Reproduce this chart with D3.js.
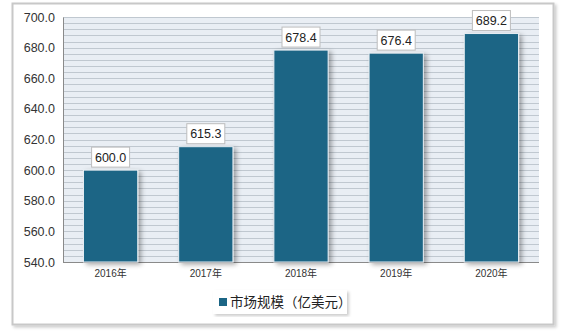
<!DOCTYPE html>
<html>
<head>
<meta charset="utf-8">
<script src="https://cdn.jsdelivr.net/npm/d3@7"></script>
<style>
  body { margin: 0; background: #fff; }
  text { font-family: "Liberation Sans", "Noto Sans CJK SC", sans-serif; }
</style>
</head>
<body>
<div id="chart"></div>
<script>
const years = ["2016年", "2017年", "2018年", "2019年", "2020年"];
const marketSize = [600.0, 615.3, 678.4, 676.4, 689.2];
const yTicks = [540, 560, 580, 600, 620, 640, 660, 680, 700];
const legendLabel = "市场规模（亿美元）";

const width = 567, height = 331;
const plot = { left: 63, right: 539, top: 17, bottom: 262 };
const barColor = "#1b6585";

const svg = d3.select("#chart").append("svg")
  .attr("width", width)
  .attr("height", height);

const defs = svg.append("defs");
const shadow = defs.append("filter").attr("id", "shadow")
  .attr("x", "-20%").attr("y", "-20%").attr("width", "150%").attr("height", "150%");
shadow.append("feDropShadow")
  .attr("dx", 3).attr("dy", 2).attr("stdDeviation", 2.5)
  .attr("flood-color", "#000").attr("flood-opacity", 0.35);

const frameShadow = defs.append("filter").attr("id", "frameShadow")
  .attr("x", "-5%").attr("y", "-5%").attr("width", "115%").attr("height", "115%");
frameShadow.append("feDropShadow")
  .attr("dx", 2).attr("dy", 2).attr("stdDeviation", 1.5)
  .attr("flood-color", "#000").attr("flood-opacity", 0.2);

// outer frame
svg.append("rect")
  .attr("x", 12.5).attr("y", 3.5)
  .attr("width", 541).attr("height", 321)
  .attr("fill", "#fff")
  .attr("stroke", "#c8c8c8")
  .attr("stroke-width", 2)
  .attr("filter", "url(#frameShadow)");

const x = d3.scaleBand()
  .domain(years)
  .range([plot.left, plot.right])
  .paddingInner(0.43)
  .paddingOuter(0.215);

const y = d3.scaleLinear()
  .domain([540, 700])
  .range([plot.bottom, plot.top]);

// plot background with fine stripes
svg.append("rect")
  .attr("x", plot.left).attr("y", plot.top)
  .attr("width", plot.right - plot.left)
  .attr("height", plot.bottom - plot.top)
  .attr("fill", "#e9eef4");

svg.append("g")
  .selectAll("line")
  .data(d3.range(540, 701, 4))
  .join("line")
  .attr("x1", plot.left).attr("x2", plot.right)
  .attr("y1", d => Math.round(y(d)) + 0.5)
  .attr("y2", d => Math.round(y(d)) + 0.5)
  .attr("stroke", "#c0c8d0")
  .attr("stroke-width", 1);

// y axis
const yAxis = svg.append("g")
  .attr("transform", `translate(${plot.left},0)`)
  .call(d3.axisLeft(y).tickValues(yTicks).tickFormat(d3.format(".1f")).tickSize(0).tickPadding(8));
yAxis.select(".domain").attr("stroke", "#8a8a8a");
yAxis.selectAll("text").attr("font-size", 12.5).attr("fill", "#333");

// baseline
svg.append("line")
  .attr("x1", plot.left).attr("x2", plot.right)
  .attr("y1", plot.bottom + 0.5).attr("y2", plot.bottom + 0.5)
  .attr("stroke", "#8a8a8a");

// x axis labels
const xAxis = svg.append("g")
  .attr("transform", `translate(0,${plot.bottom})`)
  .call(d3.axisBottom(x).tickSize(0).tickPadding(8));
xAxis.select(".domain").remove();
xAxis.selectAll("text").attr("font-size", 10).attr("fill", "#333");

// bars
svg.append("g")
  .selectAll("rect")
  .data(marketSize)
  .join("rect")
  .attr("x", (d, i) => x(years[i]))
  .attr("y", d => y(d))
  .attr("width", x.bandwidth())
  .attr("height", d => plot.bottom - y(d))
  .attr("fill", barColor)
  .attr("stroke", "#e8eef3")
  .attr("stroke-width", 1)
  .attr("filter", "url(#shadow)");

// value labels
const labels = svg.append("g")
  .selectAll("g")
  .data(marketSize)
  .join("g")
  .attr("transform", (d, i) => `translate(${x(years[i]) + x.bandwidth() / 2},${y(d) - 13})`);

labels.append("rect")
  .attr("x", -19).attr("y", -10)
  .attr("width", 38).attr("height", 20)
  .attr("fill", "#fff")
  .attr("stroke", "#bdbdbd")
  .attr("stroke-width", 1);

labels.append("text")
  .attr("text-anchor", "middle")
  .attr("dy", "0.36em")
  .attr("font-size", 12.5)
  .attr("fill", "#222")
  .text(d => d.toFixed(1));

// legend
const legend = svg.append("g").attr("transform", "translate(213,290)");
legend.append("rect")
  .attr("width", 134).attr("height", 24)
  .attr("fill", "#fff")
  .attr("filter", "url(#frameShadow)");
legend.append("rect")
  .attr("x", 6).attr("y", 8)
  .attr("width", 8).attr("height", 8)
  .attr("fill", barColor);
legend.append("text")
  .attr("x", 17).attr("y", 12)
  .attr("dy", "0.36em")
  .attr("font-size", 13.5)
  .attr("fill", "#222")
  .text(legendLabel);
</script>
</body>
</html>
